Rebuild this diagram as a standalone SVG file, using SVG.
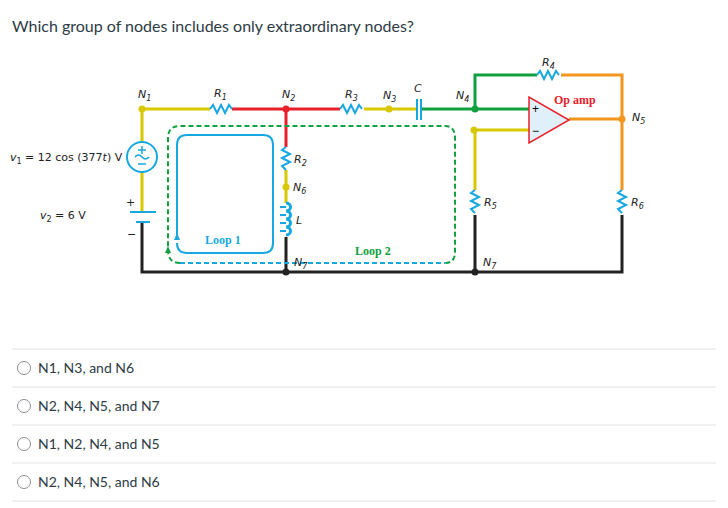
<svg xmlns="http://www.w3.org/2000/svg" width="728" height="508" viewBox="0 0 728 508">
<style>
.w{fill:none;stroke-width:3}
.y{stroke:#d8c800}.r{stroke:#e8202a}.k{stroke:#222}.g{stroke:#10a040}.o{stroke:#f4961e}
.res{fill:none;stroke:#18a8e0;stroke-width:2}
.lb{font-family:"DejaVu Sans",sans-serif;font-style:italic;font-size:11px;fill:#222}
.pl{font-family:"DejaVu Sans",sans-serif;font-size:11px;fill:#222}
.q{font-family:Lato,"Open Sans",sans-serif;font-size:16px;fill:#2d3b45}
.opt{font-family:Lato,"Open Sans",sans-serif;font-size:14px;fill:#2d3b45}
.rad{fill:#fff;stroke:#8a8f95;stroke-width:1}
.sep{stroke:#dfe2e5;stroke-width:1}
</style>
<rect width="728" height="508" fill="#fff"/>
<text class="q" x="12" y="32">Which group of nodes includes only extraordinary nodes?</text>
<g id="connectors">
<path class="w y" d="M142 109H210M142 109V142M142 172V212"/>
<path class="w r" d="M232 109H340M286 109V147"/>
<path class="w y" d="M286 170V203M364 109H417"/>
<path class="w g" d="M421 109H529M475 109V75H537"/>
<path class="w o" d="M561 75H622V190M569 119H622"/>
<path class="w y" d="M474 130H529M475 130V190"/>
<path class="w k" d="M142 222V272H622V215M286 237V272M475 215V272"/>
<path fill="none" stroke="#10a040" stroke-width="2" stroke-dasharray="5,3" d="M180 263Q168 263 168 250V138Q168 126 180 126H445Q455 126 455 138V252Q455 263 445 263"/>
<path fill="none" stroke="#18a8e0" stroke-width="2" stroke-dasharray="5,3" d="M180 263H445"/>
<path fill="none" stroke="#18a8e0" stroke-width="2" d="M177 240V145Q177 135 187 135H263Q273 135 273 145V243Q273 253 263 253H187Q177 253 177 243"/>
<path d="M177 233l-3 7h6z" fill="#18a8e0"/>
<path d="M168 246l-3 7h6z" fill="#10a040"/>
</g>
<g id="R1"><path class="res" d="M210 109l3-4 4 8 4-8 4 8 4-8 3 4"/><text class="lb" x="214" y="97">R<tspan font-size="8" dy="3">1</tspan></text></g>
<g id="R2"><path class="res" d="M286 147l-4 3 8 4-8 4 8 4-8 4 4 4"/><text class="lb" x="294" y="163">R<tspan font-size="8" dy="3">2</tspan></text></g>
<g id="R3"><path class="res" d="M340 109l3-4 4 8 4-8 4 8 4-8 3 4"/><text class="lb" x="345" y="98">R<tspan font-size="8" dy="3">3</tspan></text></g>
<g id="R4"><path class="res" d="M537 75l3-4 4 8 4-8 4 8 4-8 3 4"/><text class="lb" x="542" y="66">R<tspan font-size="8" dy="3">4</tspan></text></g>
<g id="R5"><path class="res" d="M475 190l-4 3 8 4-8 4 8 4-8 4 4 4"/><text class="lb" x="484" y="206">R<tspan font-size="8" dy="3">5</tspan></text></g>
<g id="R6"><path class="res" d="M622 190l-4 3 8 4-8 4 8 4-8 4 4 4"/><text class="lb" x="631" y="206">R<tspan font-size="8" dy="3">6</tspan></text></g>
<g id="L"><path fill="none" stroke="#18a8e0" stroke-width="3" d="M286 203c6 0 6 8 0 8c6 0 6 8 0 8c6 0 6 8 0 8c6 0 6 8 0 8"/><path stroke="#18a8e0" stroke-width="2" d="M280 207h6M280 215h6M280 223h6M280 231h6"/><text class="lb" x="296" y="224">L</text></g>
<g id="C"><path stroke="#18a8e0" stroke-width="2" d="M417 99V120M421 99V120"/><text class="lb" x="414" y="92">C</text></g>
<g id="v1"><circle cx="142" cy="157" r="15" fill="#fff" stroke="#18a8e0" stroke-width="2"/><path fill="none" stroke="#18a8e0" stroke-width="1.5" d="M135 157q3.5-4 7 0t7 0M138 150h8M142 146v8M138 164h8"/><text class="pl" x="10" y="161"><tspan font-style="italic">v</tspan><tspan font-size="8" dy="3">1</tspan><tspan dy="-3"> = 12 cos (377<tspan font-style="italic">t</tspan>) V</tspan></text></g>
<g id="v2"><path stroke="#18a8e0" stroke-width="2" d="M130 212H156M136 222H150"/><text class="pl" x="126" y="206">+</text><text class="pl" x="127" y="238">−</text><text class="pl" x="40" y="219"><tspan font-style="italic">v</tspan><tspan font-size="8" dy="3">2</tspan><tspan dy="-3"> = 6 V</tspan></text></g>
<g id="opamp"><path d="M529 97V143L569 120Z" fill="#dff0fa" stroke="#e8202a" stroke-width="1.5"/><text x="532" y="113" font-family="Liberation Sans,sans-serif" font-size="12">+</text><text x="532" y="135" font-family="Liberation Sans,sans-serif" font-size="12">−</text><text x="554" y="104" font-family="Liberation Serif,serif" font-weight="bold" font-size="12" fill="#e8202a">Op amp</text></g>
<g id="nodes">
<circle cx="142" cy="109" r="3.5" fill="#d8c800"/><text class="lb" x="138" y="98">N<tspan font-size="8" dy="3">1</tspan></text>
<circle cx="286" cy="109" r="3.5" fill="#e8202a"/><text class="lb" x="282" y="98">N<tspan font-size="8" dy="3">2</tspan></text>
<circle cx="389" cy="109" r="3.5" fill="#d8c800"/><text class="lb" x="383" y="99">N<tspan font-size="8" dy="3">3</tspan></text>
<circle cx="475" cy="109" r="3.5" fill="#10a040"/><text class="lb" x="456" y="99">N<tspan font-size="8" dy="3">4</tspan></text>
<circle cx="622" cy="119" r="3.5" fill="#f4961e"/><text class="lb" x="632" y="121">N<tspan font-size="8" dy="3">5</tspan></text>
<circle cx="286" cy="187" r="3.5" fill="#d8c800"/><text class="lb" x="293" y="191">N<tspan font-size="8" dy="3">6</tspan></text>
<circle cx="286" cy="272" r="3.5" fill="#222"/><text class="lb" x="294" y="266">N<tspan font-size="8" dy="3">7</tspan></text>
<circle cx="475" cy="272" r="3.5" fill="#222"/><text class="lb" x="483" y="266">N<tspan font-size="8" dy="3">7</tspan></text>
<circle cx="474" cy="130" r="3.5" fill="#d8c800"/>
</g>
<text x="205" y="244" font-family="Liberation Serif,serif" font-weight="bold" font-size="12" fill="#18a8e0">Loop 1</text>
<text x="355" y="255" font-family="Liberation Serif,serif" font-weight="bold" font-size="12" fill="#10a040">Loop 2</text>
<g id="options">
<line class="sep" x1="12" y1="349" x2="716" y2="349"/><line class="sep" x1="12" y1="387" x2="716" y2="387"/><line class="sep" x1="12" y1="425" x2="716" y2="425"/><line class="sep" x1="12" y1="463" x2="716" y2="463"/><line class="sep" x1="12" y1="501" x2="716" y2="501"/>
<circle class="rad" cx="24" cy="368" r="6.5"/><text class="opt" x="38" y="373">N1, N3, and N6</text>
<circle class="rad" cx="24" cy="406" r="6.5"/><text class="opt" x="38" y="411">N2, N4, N5, and N7</text>
<circle class="rad" cx="24" cy="444" r="6.5"/><text class="opt" x="38" y="449">N1, N2, N4, and N5</text>
<circle class="rad" cx="24" cy="482" r="6.5"/><text class="opt" x="38" y="487">N2, N4, N5, and N6</text>
</g>
</svg>
